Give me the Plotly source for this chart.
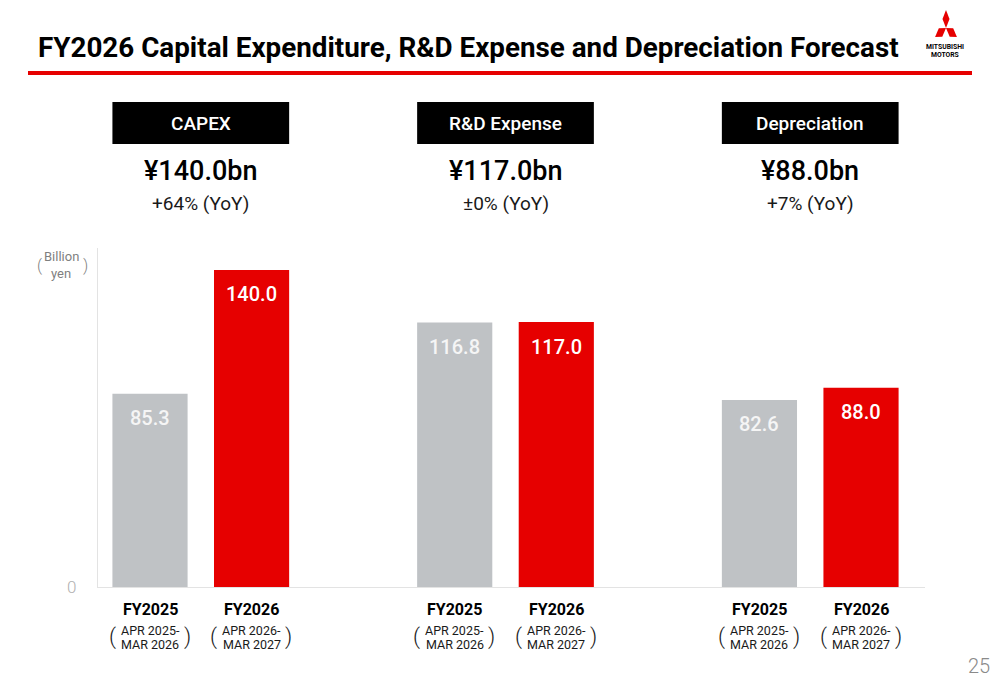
import numpy as np
import plotly.graph_objects as go

# ---------------- data ----------------
groups = ["CAPEX", "R&D Expense", "Depreciation"]
periods = ["FY2025", "FY2026"]
period_line1 = ["APR 2025-", "APR 2026-"]
period_line2 = ["MAR 2026", "MAR 2027"]
fy2025_values = [85.3, 116.8, 82.6]
fy2026_values = [140.0, 117.0, 88.0]
headline_values = ["¥140.0bn", "¥117.0bn", "¥88.0bn"]
yoy_texts = ["+64% (YoY)", "±0% (YoY)", "+7% (YoY)"]
title_text = "FY2026 Capital Expenditure, R&D Expense and Depreciation Forecast"
page_number = "25"

# ---------------- layout helpers ----------------
W, H = 1000, 685
ML, MR, MT, MB = 98, 75, 248, 98
PW, PH = W - ML - MR, H - MT - MB
XR = [-0.512, 7.63]
YR = [0, 149.7]

RED = "#e60000"
GRAY = "#bfc2c5"
FONT = "Roboto, 'Noto Sans', sans-serif"


def px(x):
    return (x - ML) / PW


def py(y):
    return (H - MB - y) / PH


GROUP_STEP = 3
bar_width = 0.74

x_fy25 = [GROUP_STEP * g + 0 for g in range(len(groups))]
x_fy26 = [GROUP_STEP * g + 1 for g in range(len(groups))]

fig = go.Figure()
fig.add_trace(go.Bar(x=x_fy25, y=fy2025_values, width=bar_width,
                     marker=dict(color=GRAY, line=dict(width=0)),
                     name=periods[0], hoverinfo="skip"))
fig.add_trace(go.Bar(x=x_fy26, y=fy2026_values, width=bar_width,
                     marker=dict(color=RED, line=dict(width=0)),
                     name=periods[1], hoverinfo="skip"))

shapes = []
ann = []


def add_text(text, x, y, size, color="#000", family=FONT, weight="normal",
             xref="paper", yref="paper", xanchor="center", yanchor="middle",
             xshift=0, yshift=0):
    ann.append(dict(text=text, x=x, y=y, xref=xref, yref=yref, showarrow=False,
                    xanchor=xanchor, yanchor=yanchor, xshift=xshift, yshift=yshift,
                    borderpad=0,
                    font=dict(size=size, color=color, family=family, weight=weight)))


# Title + red rule
add_text(title_text, px(37), py(48), 27.8, weight="bold", xanchor="left")
shapes.append(dict(type="rect", xref="paper", yref="paper",
                   x0=px(28), x1=px(972), y0=py(75), y1=py(71),
                   fillcolor=RED, line=dict(width=0), layer="above"))

# Logo (three diamonds)
cx, cy = 946, 28
L, w = 18.0, 5.0
base = np.array([[0, 0], [w, -L / 2], [0, -L], [-w, -L / 2]])
for ang in [0, 120, 240]:
    a = np.radians(ang)
    R = np.array([[np.cos(a), -np.sin(a)], [np.sin(a), np.cos(a)]])
    pts = base @ R.T
    pts[:, 0] *= 0.7
    pts = pts + np.array([cx, cy])
    path = "M " + " L ".join(f"{px(p[0]):.5f},{py(p[1]):.5f}" for p in pts) + " Z"
    shapes.append(dict(type="path", xref="paper", yref="paper", path=path,
                       fillcolor=RED, line=dict(width=0), layer="above"))
add_text("MITSUBISHI", px(945), py(46.5), 6.8, weight="bold")
add_text("MOTORS", px(945), py(55), 6.8, weight="bold")

# Group headers
for g, name in enumerate(groups):
    xc = GROUP_STEP * g + 0.5
    shapes.append(dict(type="rect", xref="x", yref="paper",
                       x0=GROUP_STEP * g - bar_width / 2, x1=GROUP_STEP * g + 1 + bar_width / 2,
                       y0=py(144), y1=py(102), fillcolor="#000", line=dict(width=0)))
    add_text(name, xc, py(124), 19, color="#fff", xref="x", weight=500)
    add_text(headline_values[g], xc, py(171), 27, xref="x", weight=500)
    add_text(yoy_texts[g], xc, py(203), 19, color="#1a1a1a", xref="x")

# Value labels inside bars
for xs, vals, col in [(x_fy25, fy2025_values, "#f5f5f5"), (x_fy26, fy2026_values, "#ffffff")]:
    for x, v in zip(xs, vals):
        add_text(f"{v:.1f}", x, v, 20, color=col, xref="x", yref="y", yshift=-24.5,
                 weight=500)

# X category labels
for xs in [x_fy25, x_fy26]:
    for x in xs:
        p = x % GROUP_STEP
        add_text(periods[p], x, py(609.5), 16, xref="x", weight="bold")
        add_text(period_line1[p], x, py(630), 12.5, color="#1a1a1a", xref="x")
        add_text(period_line2[p], x, py(644.5), 12.5, color="#1a1a1a", xref="x")
        add_text("(", x, py(637), 22, color="#1a1a1a", xref="x", xshift=-38, weight=300)
        add_text(")", x, py(637), 22, color="#1a1a1a", xref="x", xshift=37, weight=300)

# Axis unit + zero label
add_text("0", px(77), 0, 17, color="#b0b0b0", xanchor="right", yref="y", weight=300)
add_text("Billion", px(61), py(256), 13, color="#7f7f7f")
add_text("yen", px(61), py(273), 13, color="#7f7f7f")
add_text("(", px(39), py(265), 16, color="#7f7f7f", weight=300)
add_text(")", px(85), py(265), 16, color="#7f7f7f", weight=300)

# Page number
add_text(page_number, px(979), py(666), 20, color="#8a8a8a", weight=300)

fig.update_layout(
    width=W, height=H, autosize=False,
    margin=dict(l=ML, r=MR, t=MT, b=MB, pad=0),
    paper_bgcolor="#fff", plot_bgcolor="#fff",
    barmode="overlay", showlegend=False,
    shapes=shapes, annotations=ann,
    xaxis=dict(range=XR, showgrid=False, zeroline=False, showticklabels=False,
               showline=True, linecolor="#e3e3e3", linewidth=1, fixedrange=True),
    yaxis=dict(range=YR, showgrid=False, zeroline=False, showticklabels=False,
               showline=True, linecolor="#e3e3e3", linewidth=1, fixedrange=True),
)

fig.write_html("out.html")
